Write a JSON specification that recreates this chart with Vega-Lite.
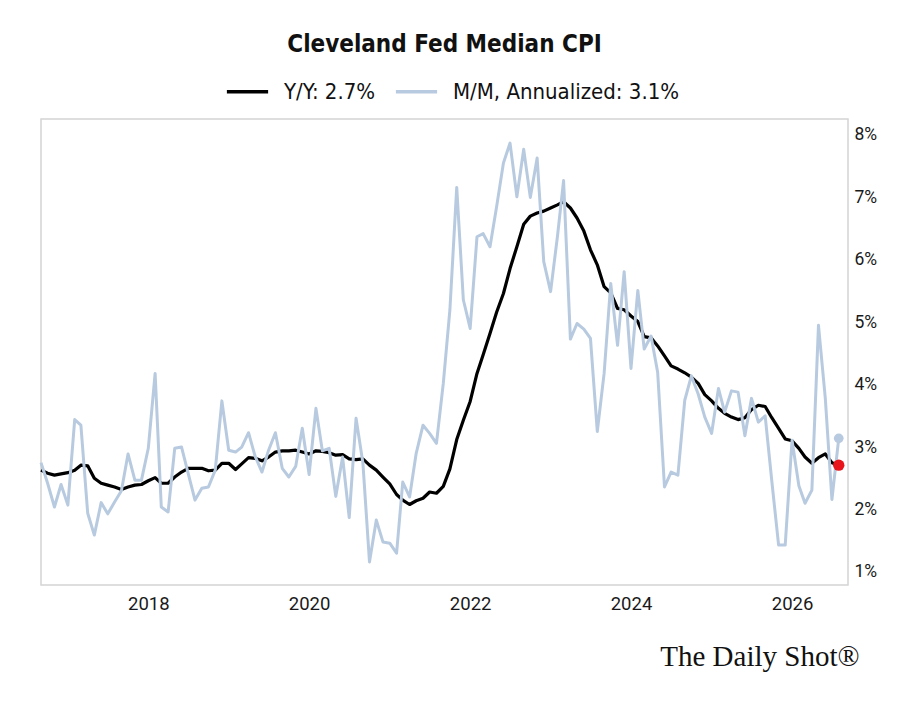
{
 "$schema": "https://vega.github.io/schema/vega-lite/v6.json",
 "width": 807,
 "height": 466,
 "autosize": {"type": "none"},
 "padding": {"left": 41, "top": 119, "right": 76, "bottom": 120},
 "background": "white",
 "title": {"text": "Cleveland Fed Median CPI", "anchor": "middle", "frame": "group", "font": "DejaVu Sans Condensed, Roboto, sans-serif", "fontSize": 24, "fontWeight": "bold", "color": "#111111", "offset": 12},
 "config": {"view": {"stroke": "#d4d4d4", "strokeWidth": 1.5}},
 "data": {"values": [
  {"d":"2016/09/01","yy":2.63,"mm":2.75},{"d":"2016/10/01","yy":2.58,"mm":2.42},{"d":"2016/11/01","yy":2.55,"mm":2.04},{"d":"2016/12/01","yy":2.57,"mm":2.40},
  {"d":"2017/01/01","yy":2.59,"mm":2.07},{"d":"2017/02/01","yy":2.63,"mm":3.44},{"d":"2017/03/01","yy":2.71,"mm":3.35},{"d":"2017/04/01","yy":2.70,"mm":1.94},
  {"d":"2017/05/01","yy":2.50,"mm":1.59},{"d":"2017/06/01","yy":2.42,"mm":2.11},{"d":"2017/07/01","yy":2.39,"mm":1.93},{"d":"2017/08/01","yy":2.36,"mm":2.12},
  {"d":"2017/09/01","yy":2.32,"mm":2.30},{"d":"2017/10/01","yy":2.36,"mm":2.89},{"d":"2017/11/01","yy":2.39,"mm":2.47},{"d":"2017/12/01","yy":2.40,"mm":2.47},
  {"d":"2018/01/01","yy":2.46,"mm":2.98},{"d":"2018/02/01","yy":2.51,"mm":4.18},{"d":"2018/03/01","yy":2.42,"mm":2.04},{"d":"2018/04/01","yy":2.42,"mm":1.96},
  {"d":"2018/05/01","yy":2.52,"mm":2.98},{"d":"2018/06/01","yy":2.60,"mm":3.00},{"d":"2018/07/01","yy":2.66,"mm":2.58},{"d":"2018/08/01","yy":2.66,"mm":2.15},
  {"d":"2018/09/01","yy":2.66,"mm":2.34},{"d":"2018/10/01","yy":2.62,"mm":2.36},{"d":"2018/11/01","yy":2.63,"mm":2.63},{"d":"2018/12/01","yy":2.74,"mm":3.74},
  {"d":"2019/01/01","yy":2.74,"mm":2.95},{"d":"2019/02/01","yy":2.64,"mm":2.92},{"d":"2019/03/01","yy":2.73,"mm":3.00},{"d":"2019/04/01","yy":2.83,"mm":3.23},
  {"d":"2019/05/01","yy":2.82,"mm":2.85},{"d":"2019/06/01","yy":2.78,"mm":2.60},{"d":"2019/07/01","yy":2.84,"mm":2.95},{"d":"2019/08/01","yy":2.92,"mm":3.23},
  {"d":"2019/09/01","yy":2.94,"mm":2.66},{"d":"2019/10/01","yy":2.94,"mm":2.52},{"d":"2019/11/01","yy":2.95,"mm":2.69},{"d":"2019/12/01","yy":2.92,"mm":3.30},
  {"d":"2020/01/01","yy":2.89,"mm":2.56},{"d":"2020/02/01","yy":2.94,"mm":3.62},{"d":"2020/03/01","yy":2.93,"mm":2.94},{"d":"2020/04/01","yy":2.91,"mm":2.98},
  {"d":"2020/05/01","yy":2.87,"mm":2.21},{"d":"2020/06/01","yy":2.88,"mm":2.84},{"d":"2020/07/01","yy":2.81,"mm":1.87},{"d":"2020/08/01","yy":2.80,"mm":3.46},
  {"d":"2020/09/01","yy":2.81,"mm":2.75},{"d":"2020/10/01","yy":2.71,"mm":1.16},{"d":"2020/11/01","yy":2.63,"mm":1.83},{"d":"2020/12/01","yy":2.52,"mm":1.48},
  {"d":"2021/01/01","yy":2.41,"mm":1.46},{"d":"2021/02/01","yy":2.24,"mm":1.30},{"d":"2021/03/01","yy":2.15,"mm":2.44},{"d":"2021/04/01","yy":2.08,"mm":2.20},
  {"d":"2021/05/01","yy":2.14,"mm":2.90},{"d":"2021/06/01","yy":2.18,"mm":3.35},{"d":"2021/07/01","yy":2.28,"mm":3.22},{"d":"2021/08/01","yy":2.26,"mm":3.06},
  {"d":"2021/09/01","yy":2.37,"mm":4.02},{"d":"2021/10/01","yy":2.65,"mm":5.20},{"d":"2021/11/01","yy":3.12,"mm":7.16},{"d":"2021/12/01","yy":3.43,"mm":5.36},
  {"d":"2022/01/01","yy":3.73,"mm":4.90},{"d":"2022/02/01","yy":4.18,"mm":6.37},{"d":"2022/03/01","yy":4.48,"mm":6.42},{"d":"2022/04/01","yy":4.82,"mm":6.21},
  {"d":"2022/05/01","yy":5.16,"mm":6.85},{"d":"2022/06/01","yy":5.46,"mm":7.55},{"d":"2022/07/01","yy":5.86,"mm":7.87},{"d":"2022/08/01","yy":6.21,"mm":7.01},
  {"d":"2022/09/01","yy":6.57,"mm":7.77},{"d":"2022/10/01","yy":6.70,"mm":7.00},{"d":"2022/11/01","yy":6.75,"mm":7.63},{"d":"2022/12/01","yy":6.78,"mm":5.97},
  {"d":"2023/01/01","yy":6.83,"mm":5.49},{"d":"2023/02/01","yy":6.88,"mm":6.37},{"d":"2023/03/01","yy":6.93,"mm":7.27},{"d":"2023/04/01","yy":6.83,"mm":4.73},
  {"d":"2023/05/01","yy":6.67,"mm":4.98},{"d":"2023/06/01","yy":6.46,"mm":4.89},{"d":"2023/07/01","yy":6.16,"mm":4.74},{"d":"2023/08/01","yy":5.92,"mm":3.25},
  {"d":"2023/09/01","yy":5.57,"mm":4.18},{"d":"2023/10/01","yy":5.47,"mm":5.62},{"d":"2023/11/01","yy":5.22,"mm":4.63},{"d":"2023/12/01","yy":5.20,"mm":5.81},
  {"d":"2024/01/01","yy":5.10,"mm":4.26},{"d":"2024/02/01","yy":5.01,"mm":5.51},{"d":"2024/03/01","yy":4.77,"mm":4.57},{"d":"2024/04/01","yy":4.75,"mm":4.78},
  {"d":"2024/05/01","yy":4.62,"mm":4.20},{"d":"2024/06/01","yy":4.46,"mm":2.36},{"d":"2024/07/01","yy":4.30,"mm":2.60},{"d":"2024/08/01","yy":4.25,"mm":2.55},
  {"d":"2024/09/01","yy":4.19,"mm":3.75},{"d":"2024/10/01","yy":4.12,"mm":4.14},{"d":"2024/11/01","yy":4.02,"mm":3.85},{"d":"2024/12/01","yy":3.84,"mm":3.48},
  {"d":"2025/01/01","yy":3.74,"mm":3.22},{"d":"2025/02/01","yy":3.62,"mm":3.94},{"d":"2025/03/01","yy":3.54,"mm":3.56},{"d":"2025/04/01","yy":3.48,"mm":3.90},
  {"d":"2025/05/01","yy":3.44,"mm":3.88},{"d":"2025/06/01","yy":3.47,"mm":3.18},{"d":"2025/07/01","yy":3.60,"mm":3.78},{"d":"2025/08/01","yy":3.67,"mm":3.40},
  {"d":"2025/09/01","yy":3.65,"mm":3.50},{"d":"2025/10/01","yy":3.47,"mm":2.46},{"d":"2025/11/01","yy":3.30,"mm":1.43},{"d":"2025/12/01","yy":3.13,"mm":1.43},
  {"d":"2026/01/01","yy":3.10,"mm":3.11},{"d":"2026/02/01","yy":2.98,"mm":2.38},{"d":"2026/03/01","yy":2.84,"mm":2.10},{"d":"2026/04/01","yy":2.74,"mm":2.31},
  {"d":"2026/05/01","yy":2.83,"mm":4.95},{"d":"2026/06/01","yy":2.89,"mm":3.78},{"d":"2026/07/01","yy":2.75,"mm":2.16},{"d":"2026/08/01","yy":2.71,"mm":3.14}
 ]},
 "transform": [{"fold": ["yy", "mm"], "as": ["series", "value"]}],
 "encoding": {
  "x": {"field": "d", "type": "temporal",
   "scale": {"domain": [{"year": 2016, "month": 9, "date": 1}, {"year": 2026, "month": 9, "date": 12}], "nice": false},
   "axis": {"values": [{"year": 2018, "month": 1, "date": 1}, {"year": 2020, "month": 1, "date": 1}, {"year": 2022, "month": 1, "date": 1}, {"year": 2024, "month": 1, "date": 1}, {"year": 2026, "month": 1, "date": 1}],
    "format": "%Y", "grid": false, "domain": false, "ticks": false, "labelPadding": 9, "labelFont": "Roboto, sans-serif", "labelFontSize": 18.5, "labelColor": "#1a1a1a",
    "title": "The Daily Shot®", "titleFont": "Liberation Serif, DejaVu Serif, serif", "titleFontSize": 29, "titleFontWeight": "normal", "titleColor": "#111111", "titleAnchor": "end", "titleX": 818, "titleAlign": "right", "titlePadding": 30}},
  "y": {"field": "value", "type": "quantitative",
   "scale": {"domain": [0.79, 8.256], "nice": false, "zero": false},
   "axis": {"orient": "right", "values": [1, 2, 3, 4, 5, 6, 7, 8], "labelExpr": "datum.value + '%'", "grid": false, "domain": false, "ticks": false, "labelPadding": 6, "labelFont": "Roboto, sans-serif", "labelFontSize": 17.5, "labelColor": "#1a1a1a", "title": null}}
 },
 "layer": [
  {"transform": [{"filter": {"field": "series", "equal": "yy"}}],
   "mark": {"type": "line", "strokeWidth": 3.2, "strokeJoin": "round"},
   "encoding": {"color": {"field": "series", "type": "nominal",
    "scale": {"domain": ["yy", "mm"], "range": ["#000000", "#b8cadf"]},
    "legend": {"orient": "none", "legendX": 184, "legendY": -50, "direction": "horizontal", "title": null, "symbolType": "stroke", "symbolStrokeWidth": 3.5, "symbolSize": 1700, "labelFont": "DejaVu Sans Condensed, Roboto, sans-serif", "labelFontSize": 22, "labelColor": "#111111", "labelOffset": 14, "columnPadding": 12, "labelLimit": 400,
     "labelExpr": "datum.label == 'yy' ? 'Y/Y: 2.7%' : 'M/M, Annualized: 3.1%'"}}}},
  {"transform": [{"filter": {"field": "series", "equal": "mm"}}],
   "mark": {"type": "line", "strokeWidth": 3, "strokeJoin": "round"},
   "encoding": {"color": {"field": "series", "type": "nominal"}}},
  {"transform": [{"filter": {"field": "series", "equal": "mm"}}, {"filter": {"field": "d", "timeUnit": "yearmonth", "equal": {"year": 2026, "month": 8}}}],
   "mark": {"type": "circle", "size": 95, "color": "#b8cadf", "opacity": 1},
   "encoding": {}},
  {"transform": [{"filter": {"field": "series", "equal": "yy"}}, {"filter": {"field": "d", "timeUnit": "yearmonth", "equal": {"year": 2026, "month": 8}}}],
   "mark": {"type": "circle", "size": 130, "color": "#e8161c", "opacity": 1},
   "encoding": {}}
 ]
}
